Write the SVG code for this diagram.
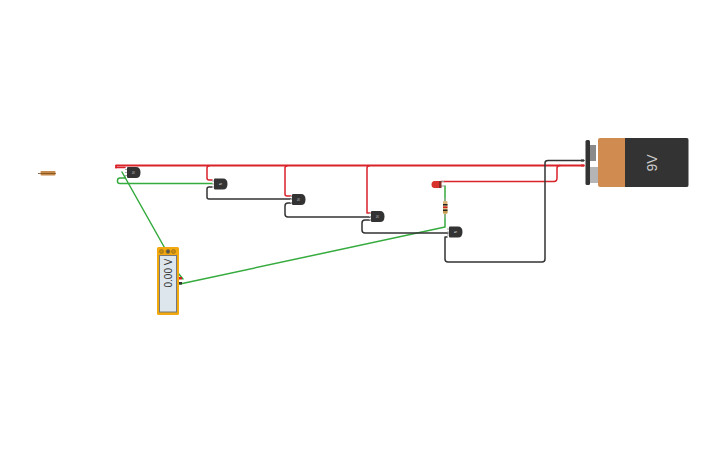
<svg xmlns="http://www.w3.org/2000/svg" width="725" height="453" viewBox="0 0 725 453">
<style>
.w{fill:none;stroke-width:1.5;stroke-linejoin:round;stroke-linecap:round}
.r{stroke:#d9222a}.k{stroke:#333333}.g{stroke:#36ab3e}
.tb{fill:#333333}.lead{stroke:#aaaaaa;stroke-width:1;fill:none}
.tl{fill:#dddddd;font-family:"Liberation Sans",sans-serif;font-size:3px;text-anchor:middle}
</style>
<defs>
<g id="q">
<path class="lead" d="M-8 -3H-2M-8 0H-2M-8 3H-2"/>
<path class="tb" d="M-6 -4.500Q-6 -5.500 -5 -5.500H3Q7.500 -5.500 7.500 0Q7.500 5.500 3 5.500H-5Q-6 5.500 -6 4.500Z"/>
<text class="tl" x="0" y="1" transform="rotate(90 0 0)">N</text>
</g>
</defs>
<g id="connectors">
<path class="w r" style="stroke-width:1.800" d="M116 167.500V165.500H584"/>
<path class="w r" d="M116 167.500H125"/>
<path class="w r" d="M212 180H209Q207 180 207 178V168Q207 166 209 166"/>
<path class="w r" d="M291 196H287Q285 196 285 194V168Q285 166 287 166"/>
<path class="w r" d="M370 213H367V168Q367 166 369 166"/>
<path class="w r" d="M441 181.500H554Q557 181.500 557 178V168Q557 165.500 560 165.500"/>
<path class="w g" d="M125 177V178H120Q117.500 178 117.500 180.500V181.500Q117.500 183.500 120 183.500H212"/>
<path class="w g" d="M122 172L167 252"/>
<path class="w g" d="M180 284L445 227V186"/>
<path class="w g" d="M178 273L183 279"/>
<path class="w k" d="M212 187H209Q207 187 207 189V197Q207 199 209 199H291"/>
<path class="w k" d="M291 203H288Q285 203 285 206V214Q285 217 288 217H370"/>
<path class="w k" d="M370 220H365Q362 220 362 223V230Q362 233 365 233H448"/>
<path class="w k" d="M447 237H445V259Q445 262 448 262H542Q545 262 545 259V163Q545 160.500 548 160.500H584"/>
</g>
<g id="resistor1">
<path d="M38 173.500H56" stroke="#8a6a50" stroke-width="1"/>
<rect x="40.500" y="171" width="15" height="4.500" rx="1" fill="#c58a4c"/>
<rect x="41" y="173" width="14" height="1" fill="#8a5a20"/>
</g>
<g id="q1"><use href="#q" x="133" y="172.500"/></g>
<g id="q2"><use href="#q" x="220" y="184"/></g>
<g id="q3"><use href="#q" x="298" y="199.500"/></g>
<g id="q4"><use href="#q" x="377" y="216.500"/></g>
<g id="q5"><use href="#q" x="455" y="232"/></g>
<g id="led">
<path d="M441 181.500H444M441 186H445" stroke="#999999" stroke-width="1"/>
<path d="M434 181H440V188H434Q431.500 187.500 431.500 184.500Q431.500 181.500 434 181Z" fill="#d8322c"/>
<rect x="439" y="181" width="2.500" height="7" fill="#8a2a26"/>
</g>
<g id="resistor2">
<path d="M445 198V218" stroke="#aaaaaa" stroke-width="1"/>
<rect x="443" y="201" width="4.500" height="13" rx="1" fill="#dcb478"/>
<rect x="443" y="204" width="4.500" height="1.500" fill="#222222"/>
<rect x="443" y="206.500" width="4.500" height="1.500" fill="#d02020"/>
<rect x="443" y="209.500" width="4.500" height="1.500" fill="#222222"/>
<rect x="443" y="211.500" width="4.500" height="1" fill="#b08020"/>
</g>
<g id="meter">
<rect x="157" y="247" width="22" height="68" rx="1.500" fill="#f2a80f"/>
<circle cx="161.500" cy="251.500" r="2" fill="#c98c10" stroke="#8a6a20" stroke-width=".6"/>
<circle cx="168" cy="251.500" r="2" fill="#555555" stroke="#8a6a20" stroke-width=".6"/>
<circle cx="173.500" cy="251.500" r="2" fill="#c98c10" stroke="#8a6a20" stroke-width=".6"/>
<rect x="159.500" y="255.500" width="17" height="56.500" fill="#dce6ec" stroke="#777777" stroke-width="1"/>
<text x="168" y="273" transform="rotate(-90 168 273)" font-family="'Liberation Sans',sans-serif" font-size="10" fill="#333333" text-anchor="middle" dominant-baseline="central">0.00 V</text>
<rect x="179" y="277" width="3" height="2.500" fill="#cc2222"/>
<rect x="179" y="282" width="3" height="2.500" fill="#333333"/>
</g>
<g id="battery">
<rect x="585.500" y="140" width="4.500" height="45" rx="1.500" fill="#333333"/>
<rect x="590" y="145" width="6" height="16" fill="#8a8a8a"/>
<rect x="590" y="167" width="8" height="16" fill="#b5b5b5"/>
<path d="M600 138H625V187H600Q598 187 598 185V140Q598 138 600 138Z" fill="#d08c50"/>
<path d="M625 138H687Q688.500 138 688.500 140V185Q688.500 187 687 187H625Z" fill="#333333"/>
<text x="652" y="163" transform="rotate(-90 652 163)" font-family="'Liberation Sans',sans-serif" font-size="14" fill="#cccccc" text-anchor="middle" dominant-baseline="central">9V</text>
<rect x="581" y="159.500" width="3" height="2" fill="#333333"/>
<rect x="581" y="164.500" width="3" height="2" fill="#d9222a"/>
</g>
</svg>
